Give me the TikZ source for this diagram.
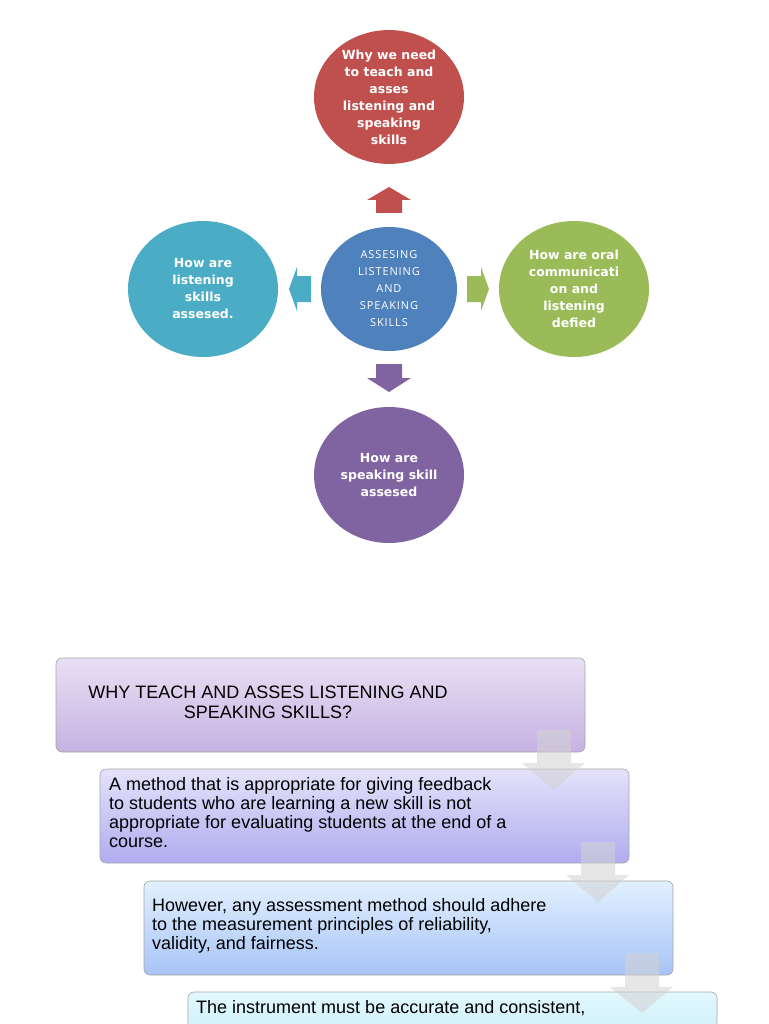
\documentclass[tikz,border=0pt]{standalone}
\usepackage{fontspec}
\setmainfont{Liberation Sans}
\newfontfamily\circfont{DejaVu Sans}
\newfontfamily\cenfont{Open Sans}
\usetikzlibrary{shapes.geometric}
\definecolor{cred}{HTML}{C0504D}
\definecolor{cblue}{HTML}{4F81BD}
\definecolor{cteal}{HTML}{4BACC6}
\definecolor{cgreen}{HTML}{9BBB59}
\definecolor{cpurp}{HTML}{8064A2}
\definecolor{aT}{HTML}{E8E0F4}\definecolor{aB}{HTML}{C6B2E2}
\definecolor{bT}{HTML}{E4E2FA}\definecolor{bB}{HTML}{B0ACF0}
\definecolor{cT}{HTML}{E2F0FE}\definecolor{cB}{HTML}{A8C4F6}
\definecolor{dT}{HTML}{E2F8FE}\definecolor{dB}{HTML}{CCF0FA}
\begin{document}
\begin{tikzpicture}[x=1pt,y=-1pt,
  circ/.style={ellipse,minimum width=150pt,minimum height=136pt,inner sep=0pt,text=white,align=center,font=\circfont\bfseries\fontsize{12.5}{17}\selectfont},
  bx/.style={rounded corners=6pt,draw=gray!70,line width=0.6pt},
  ga/.style={fill=gray!35,fill opacity=0.55},
  btxt/.style={anchor=north west,align=left,font=\fontsize{18}{19}\selectfont,inner sep=0pt}]
\useasboundingbox (0,0) rectangle (768,1024);
\fill[white] (0,0) rectangle (768,1024);
\node[circ,fill=cred,minimum width=150pt,minimum height=124pt] (top) at (389,97) {Why we need\\to teach and\\asses\\listening and\\speaking\\skills};
\node[circ,fill=cblue,minimum width=136pt,minimum height=124pt,font=\cenfont\fontsize{11}{17}\selectfont,text width=80pt] (cen) at (389,289) {\addfontfeature{LetterSpace=8}ASSESING\\LISTENING\\AND\\SPEAKING\\SKILLS};
\node[circ,fill=cteal] (left) at (203,289) {How are\\listening\\skills\\assesed.};
\node[circ,fill=cgreen] (right) at (574,289) {How are oral\\communicati\\on and\\listening\\defied};
\node[circ,fill=cpurp] (bot) at (389,475) {How are\\speaking skill\\assesed};
% arrows
\fill[cred] (367,200) -- (389,187) -- (411,200) -- (402,200) -- (402,213) -- (376,213) -- (376,200) -- cycle;
\fill[cpurp] (367,378) -- (389,392) -- (411,378) -- (402,378) -- (402,364) -- (376,364) -- (376,378) -- cycle;
\fill[cteal] (297,267) -- (289,289) -- (297,311) -- (297,302) -- (311,302) -- (311,276) -- (297,276) -- cycle;
\fill[cgreen] (481,267) -- (489,289) -- (481,311) -- (481,302) -- (467,302) -- (467,276) -- (481,276) -- cycle;
% boxes
\shade[bx,top color=aT,bottom color=aB] (56,658) rectangle (585,752);
\node (b1) [align=center,font=\fontsize{18}{20}\selectfont,anchor=center] at (268,702) {WHY TEACH AND ASSES LISTENING AND\\SPEAKING SKILLS?};
\shade[bx,top color=bT,bottom color=bB] (100,769) rectangle (629,863);
\node (b2)[btxt] at (109,777) {A method that is appropriate for giving feedback\\to students who are learning a new skill is not\\appropriate for evaluating students at the end of a\\course.};
\shade[bx,top color=cT,bottom color=cB] (144,881) rectangle (673,975);
\node (b3)[btxt] at (152,898) {However, any assessment method should adhere\\to the measurement principles of reliability,\\validity, and fairness.};
\shade[bx,top color=dT,bottom color=dB] (188,992) rectangle (717,1040);
\node (b4)[btxt] at (196,1000) {The instrument must be accurate and consistent,};
\fill[ga] (537,730) -- (571,730) -- (571,763) -- (585,763) -- (554,790) -- (522,763) -- (537,763) -- cycle;
\fill[ga] (581,842) -- (615,842) -- (615,875) -- (629,875) -- (598,902) -- (566,875) -- (581,875) -- cycle;
\fill[ga] (625,953) -- (659,953) -- (659,987) -- (673,987) -- (642,1013) -- (610,987) -- (625,987) -- cycle;
\end{tikzpicture}
\end{document}
